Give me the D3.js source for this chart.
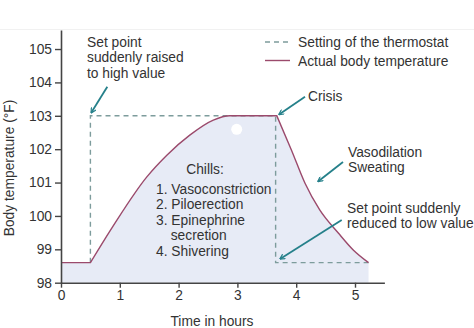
<!DOCTYPE html>
<html>
<head>
<meta charset="utf-8">
<script src="https://cdn.jsdelivr.net/npm/d3@7"></script>
<style>
  html, body { margin: 0; padding: 0; background: #fff; }
  svg { display: block; font-family: "Liberation Sans", Arial, Helvetica, sans-serif; }
  text { fill: #333; }
</style>
</head>
<body>
<svg id="chart" width="474" height="328"></svg>
<script>
// Fever course: thermostat set point vs. actual body temperature
const xTicks = [0, 1, 2, 3, 4, 5];
const yTicks = [98, 99, 100, 101, 102, 103, 104, 105];

// thermostat setting (hours, °F)
const setPoint = [[0.5, 98.6], [0.5, 103], [3.65, 103], [3.65, 98.6], [5.23, 98.6]];

// actual body temperature, split where the trace has corners
const tempBaseline = [[0, 98.6], [0.5, 98.6]];
const tempRise = [[0.5, 98.6], [0.88, 99.68], [1.46, 101.17], [1.8, 101.82], [2.19, 102.42],
                  [2.59, 102.87], [2.87, 103], [3.67, 103]];
const tempFall = [[3.67, 103], [3.92, 101.97], [4.15, 100.98], [4.4, 100.18], [4.72, 99.48],
                  [4.97, 98.98], [5.23, 98.6]];

const legendItems = ["Setting of the thermostat", "Actual body temperature"];
const chillsList = ["1. Vasoconstriction", "2. Piloerection", "3. Epinephrine", "secretion", "4. Shivering"];

const FS = 13.8;
const svg = d3.select("#chart");
const x = d3.scaleLinear().domain([0, 5.5]).range([61, 384.4]);
const y = d3.scaleLinear().domain([98, 105.57]).range([282.7, 30]);

const colLine = "#9b4a6c", colDash = "#7d9c9c", colArrow = "#25808a", colFill = "#e7ebf6";

// faint frame line along the top
svg.append("line").attr("x1", 0).attr("x2", 474).attr("y1", 29.5).attr("y2", 29.5)
  .attr("stroke", "#f1f1f1").attr("stroke-width", 1);

// temperature trace built from its pieces
const linLine = d3.line().x(d => x(d[0])).y(d => y(d[1]));
const monoLine = d3.line().x(d => x(d[0])).y(d => y(d[1])).curve(d3.curveMonotoneX);
const tracePath = linLine(tempBaseline) +
  monoLine(tempRise).replace(/^M/, "L") +
  monoLine(tempFall).replace(/^M/, "L");

// shaded area under the trace
svg.append("path")
  .attr("d", tracePath + `L${x(5.23)},${y(98)}L${x(0)},${y(98)}Z`)
  .attr("fill", colFill);

// small white spot on the plateau
svg.append("circle").attr("cx", 236.7).attr("cy", 129.3).attr("r", 5.5).attr("fill", "#fff");

// thermostat setting
svg.append("path")
  .attr("d", linLine(setPoint))
  .attr("fill", "none").attr("stroke", colDash).attr("stroke-width", 1.4)
  .attr("stroke-dasharray", "5,4");

svg.append("path")
  .attr("d", tracePath)
  .attr("fill", "none").attr("stroke", colLine).attr("stroke-width", 1.4);

// axes
const yAxis = svg.append("g").attr("transform", `translate(${x(0)},0)`)
  .call(d3.axisLeft(y).tickValues(yTicks).tickFormat(d3.format("d"))
    .tickSize(6).tickSizeOuter(0).tickPadding(3));
const xAxis = svg.append("g").attr("transform", `translate(0,${y(98)})`)
  .call(d3.axisBottom(x).tickValues(xTicks).tickFormat(d3.format("d"))
    .tickSize(5).tickSizeOuter(0).tickPadding(3));
[yAxis, xAxis].forEach(g => {
  g.select(".domain").attr("stroke", "#444").attr("stroke-width", 1.6);
  g.selectAll(".tick line").attr("stroke", "#444").attr("stroke-width", 1.4);
  g.selectAll(".tick text").attr("font-size", FS).attr("fill", "#333")
    .attr("font-family", "Liberation Sans, Arial, sans-serif");
});

svg.append("text").attr("transform", "translate(14,168) rotate(-90)")
  .attr("text-anchor", "middle").attr("font-size", FS).text("Body temperature (°F)");
svg.append("text").attr("x", 212).attr("y", 326)
  .attr("text-anchor", "middle").attr("font-size", FS).text("Time in hours");

// legend
const leg = svg.append("g");
legendItems.forEach((t, i) => {
  const ly = 42 + i * 18.5;
  leg.append("line").attr("x1", 265).attr("x2", 290).attr("y1", ly).attr("y2", ly)
    .attr("stroke", i === 0 ? colDash : colLine).attr("stroke-width", 1.4)
    .attr("stroke-dasharray", i === 0 ? "5,4" : null);
  leg.append("text").attr("x", 298).attr("y", ly + 5).attr("font-size", FS).text(t);
});

// annotation text
function block(lines, tx, ty, step, anchor) {
  const t = svg.append("text").attr("font-size", FS).attr("text-anchor", anchor || "start");
  lines.forEach((s, i) => {
    t.append("tspan").attr("x", Array.isArray(tx) ? tx[i] : tx).attr("y", ty + i * step).text(s);
  });
}
block(["Set point", "suddenly raised", "to high value"], 87, 46.5, 15.5);
block(["Crisis"], 308, 100.5, 15.5);
block(["Vasodilation", "Sweating"], 348, 157, 15.3);
block(["Set point suddenly", "reduced to low value"], 347, 213, 15.3);
block(["Chills:"], 205, 174, 15, "middle");
block(chillsList, [156, 156, 156, 170.7, 156], 193.5, 15.6);

// arrows
const defs = svg.append("defs");
defs.append("marker").attr("id", "head").attr("viewBox", "0 0 10 10")
  .attr("refX", 9).attr("refY", 5).attr("markerWidth", 6).attr("markerHeight", 6)
  .attr("orient", "auto").attr("markerUnits", "userSpaceOnUse")
  .append("path").attr("d", "M1,0.5 L9.5,5 L1,9.5").attr("fill", "none")
  .attr("stroke", colArrow).attr("stroke-width", 2);
const arrows = [
  [107.3, 86.7, 91.2, 112.8],
  [305, 96.7, 279, 114.5],
  [343, 162, 318, 181.5],
  [341.7, 220, 280, 259]
];
svg.selectAll(".arrow").data(arrows).join("line").attr("class", "arrow")
  .attr("x1", d => d[0]).attr("y1", d => d[1]).attr("x2", d => d[2]).attr("y2", d => d[3])
  .attr("stroke", colArrow).attr("stroke-width", 1.8).attr("marker-end", "url(#head)");
</script>
</body>
</html>
